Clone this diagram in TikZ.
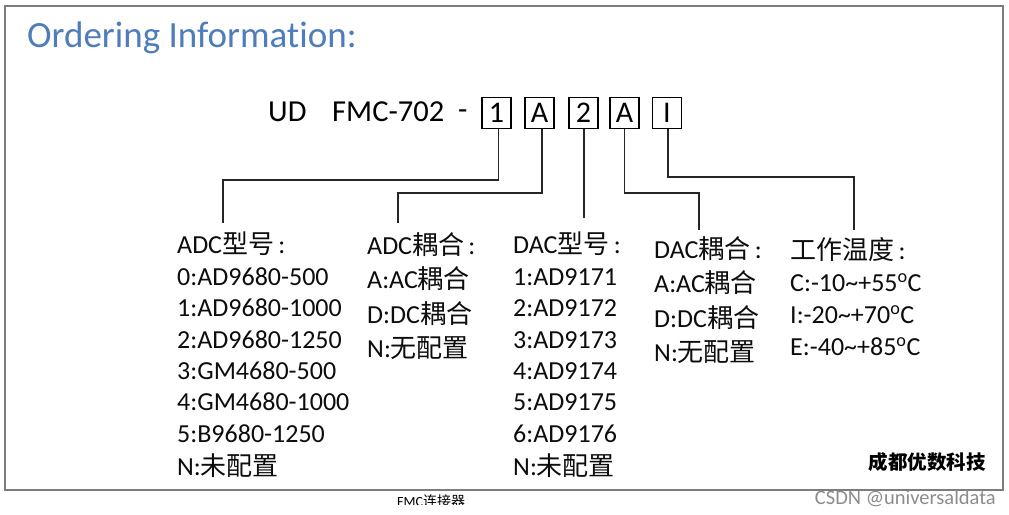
\documentclass[tikz,border=0pt]{standalone}
\usepackage{fontspec}
\setmainfont[RawFeature={-liga}]{Carlito}
\newfontfamily\cjk{Noto Sans CJK SC}
\newcommand{\zh}[1]{{\cjk #1}}
\definecolor{framegray}{RGB}{125,125,125}
\definecolor{titleblue}{RGB}{79,124,186}
\tikzset{
 x=1pt,y=-1pt,
 codebox/.style={draw=black,line width=1.5pt,minimum width=29pt,minimum height=31pt,inner sep=0pt,font=\fontsize{30}{30}\selectfont},
 column/.style={anchor=north west,align=left,inner sep=0pt,text=black!95},
 tight/.style={font=\fontsize{26}{31.4}\selectfont},
 loose/.style={font=\fontsize{26}{34.6}\selectfont},
 medium/.style={font=\fontsize{26}{32}\selectfont},
 wire/.style={draw=black!85,line width=1.2pt},
}
\begin{document}
\begin{tikzpicture}
\useasboundingbox (0,0) rectangle (1009,514);
\begin{scope}
\clip (0,491) rectangle (1009,504);
\node[anchor=base west,inner sep=0pt,font=\fontsize{14}{14}\selectfont] (fmc) at (397,506) {FMC\zh{连接器}};
\end{scope}
\draw[framegray,line width=2.5pt,fill=white] (5,6) rectangle (1003,490);
\node[anchor=base west,inner sep=0pt,text=titleblue,font=\fontsize{37}{37}\selectfont] (title) at (27,47) {Ordering Information:};
\node[anchor=base west,inner sep=0pt,font=\fontsize{30.5}{30}\selectfont] (ud) at (268,121) {UD};
\node[anchor=base west,inner sep=0pt,font=\fontsize{30.5}{30}\selectfont] (fmcnum) at (332,121) {FMC-702};
\node[anchor=base west,inner sep=0pt,font=\fontsize{30.5}{30}\selectfont] (dash) at (458,119) {-};
\node[codebox] (b1) at (496.5,113) {1};
\node[codebox] (b2) at (539.5,113) {A};
\node[codebox] (b3) at (583.5,113) {2};
\node[codebox] (b4) at (624.5,113) {A};
\node[codebox] (b5) at (667,113) {I};

\node[column,tight] (c1) at (177,232) {ADC\zh{型号}\,:\\0:AD9680-500\\1:AD9680-1000\\2:AD9680-1250\\3:GM4680-500\\4:GM4680-1000\\5:B9680-1250\\[2pt]N:\zh{未配置}};
\node[column,loose] (c2) at (367,232) {ADC\zh{耦合}\,:\\A:AC\zh{耦合}\\D:DC\zh{耦合}\\N:\zh{无配置}};
\node[column,tight] (c3) at (513,232) {DAC\zh{型号}\,:\\1:AD9171\\2:AD9172\\3:AD9173\\4:AD9174\\5:AD9175\\6:AD9176\\[2pt]N:\zh{未配置}};
\node[column,loose] (c4) at (654,236) {DAC\zh{耦合}\,:\\A:AC\zh{耦合}\\D:DC\zh{耦合}\\N:\zh{无配置}};
\node[column,medium] (c5) at (790,237) {\zh{工作温度}\,:\\C:-10\textasciitilde+55\textsuperscript{o}C\\I:-20\textasciitilde+70\textsuperscript{o}C\\E:-40\textasciitilde+85\textsuperscript{o}C};
\node[anchor=base east,inner sep=0pt,font=\fontsize{19.5}{20}\selectfont\cjk\bfseries] (corp) at (986,469) {成都优数科技};
\node[anchor=base east,inner sep=0pt,text=black!45,font=\fontsize{20.5}{20}\selectfont] (csdn) at (996,504) {CSDN @universaldata};

\coordinate (t1) at (223,223);
\coordinate (t2) at (398,223);
\coordinate (t3) at (584,218);
\coordinate (t4) at (699,230);
\coordinate (t5) at (854,230);
\draw[wire] (b1.south) ++(2,0) |- (223,180) -- (t1);
\draw[wire] (b2.south) ++(2.5,0) |- (398,193) -- (t2);
\draw[wire] (b3.south) ++(0.5,0) -- (t3);
\draw[wire] (b4.south) -- (624.5,193) -- (699,193) -- (t4);
\draw[wire] (b5.south) ++(1,0) |- (854,177) -- (t5);
\end{tikzpicture}
\end{document}
